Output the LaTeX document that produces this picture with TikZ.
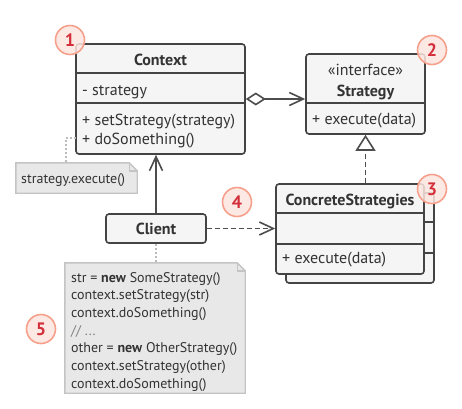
\documentclass[tikz,border=0pt]{standalone}
\usepackage{fontspec}
\setmainfont{PT Sans}
\usetikzlibrary{arrows.meta,calc}
\definecolor{boxline}{HTML}{444444}
\definecolor{boxfill}{HTML}{F5F5F5}
\definecolor{notefill}{HTML}{E8E8E8}
\definecolor{noteline}{HTML}{C4C4C4}
\definecolor{txt}{HTML}{333333}
\definecolor{badgeline}{HTML}{F6A08C}
\definecolor{badgefill}{HTML}{FDE6E0}
\definecolor{badgetxt}{HTML}{D32F3A}
\definecolor{arrowc}{HTML}{4D4D4D}
\definecolor{dotc}{HTML}{BBBBBB}
\begin{document}
\begin{tikzpicture}[x=1pt,y=-1pt,
  font=\fontsize{16}{19}\selectfont, text=txt,
  classbox/.style={draw=boxline, fill=boxfill, line width=1.6pt, rounded corners=3pt, inner sep=0pt},
  divider/.style={draw=boxline, line width=1.6pt},
  lbl/.style={anchor=base west, inner sep=0pt},
  clbl/.style={anchor=base, inner sep=0pt},
  hdr/.style={anchor=base, inner sep=0pt, font=\fontsize{16}{19}\selectfont\bfseries},
  nlbl/.style={anchor=base west, inner sep=0pt, font=\fontsize{14}{17}\selectfont},
  notebox/.style={inner sep=0pt},
  notedraw/.style={draw=noteline, fill=notefill, line width=1.4pt},
  noteconn/.style={draw=dotc, line width=1.5pt, dash pattern=on 2pt off 2pt},
  conn/.style={draw=arrowc, line width=1.6pt},
  dashconn/.style={conn, dash pattern=on 5pt off 3pt},
  openhead/.style={-{Straight Barb[length=14pt,width=13pt,line width=1.6pt]}},
  badge/.style={circle, draw=badgeline, fill=badgefill, fill opacity=0.85, text opacity=1, line width=1.6pt, minimum size=29pt, inner sep=0pt, text=badgetxt, font=\fontsize{18}{18}\selectfont\bfseries}
]
\useasboundingbox[fill=white] (0,0) rectangle (462,408);

% ---------- Context ----------
\node[classbox, minimum width=169pt, minimum height=110pt] (context) at (160.5,99) {};
\draw[divider] (76,73) -- (245,73);
\draw[divider] (76,103) -- (245,103);
\node[hdr] (ctxname) at (160.5,65) {Context};
\node[lbl] (ctxattr) at (82,95) {- strategy};
\node[lbl] (ctxm1) at (82,125) {+ setStrategy(strategy)};
\node[lbl] (ctxm2) at (82,144) {+ doSomething()};

% ---------- Strategy ----------
\node[classbox, minimum width=119pt, minimum height=80pt] (strategy) at (365.5,94) {};
\draw[divider] (306,103) -- (425,103);
\node[clbl] (stereo) at (365.5,75) {«interface»};
\node[hdr] (stratname) at (365.5,96) {Strategy};
\node[lbl] (stratm) at (312,124) {+ execute(data)};

% ---------- ConcreteStrategies (stacked) ----------
\node[classbox, minimum width=148pt, minimum height=90pt] (concback) at (360,238) {};
\draw[divider] (286,222) -- (434,222);
\draw[divider] (286,253) -- (434,253);
\node[classbox, minimum width=148pt, minimum height=90pt] (conc) at (350,229) {};
\draw[divider] (276,213) -- (424,213);
\draw[divider] (276,244) -- (424,244);
\node[hdr] (concname) at (350,205) {ConcreteStrategies};
\node[lbl] (concm) at (282,263) {+ execute(data)};

% ---------- Client ----------
\node[classbox, minimum width=100pt, minimum height=29pt] (client) at (156,228.5) {};
\node[hdr] (clientname) at (156,234) {Client};

% ---------- Notes ----------
\node[notebox, minimum width=121pt, minimum height=30pt] (note1) at (76.5,178) {};
\draw[notedraw] (note1.north west) -- ([xshift=-8pt]note1.north east) -- ([yshift=-8pt]note1.north east) -- (note1.south east) -- (note1.south west) -- cycle;
\draw[notedraw, fill=none] ([xshift=-8pt]note1.north east) -- ([xshift=-8pt,yshift=-8pt]note1.north east) -- ([yshift=-8pt]note1.north east);
\node[nlbl] (note1txt) at (21,183) {strategy.execute()};

\node[notebox, minimum width=180pt, minimum height=130pt] (note2) at (155,328) {};
\draw[notedraw] (note2.north west) -- ([xshift=-8pt]note2.north east) -- ([yshift=-8pt]note2.north east) -- (note2.south east) -- (note2.south west) -- cycle;
\draw[notedraw, fill=none] ([xshift=-8pt]note2.north east) -- ([xshift=-8pt,yshift=-8pt]note2.north east) -- ([yshift=-8pt]note2.north east);
\node[nlbl] (l1) at (71,282) {str = \textbf{new} SomeStrategy()};
\node[nlbl] (l2) at (71,299.7) {context.setStrategy(str)};
\node[nlbl] (l3) at (71,317.4) {context.doSomething()};
\node[nlbl, text=black!50] (l4) at (71,335.1) {// ...};
\node[nlbl] (l5) at (71,352.8) {other = \textbf{new} OtherStrategy()};
\node[nlbl] (l6) at (71,370.5) {context.setStrategy(other)};
\node[nlbl] (l7) at (71,388.2) {context.doSomething()};

% ---------- Connectors ----------
\draw[conn, {Diamond[open, fill=white, length=20pt, width=13pt, line width=1.6pt]}-{Straight Barb[length=14pt,width=13pt,line width=1.6pt]}]
  (context.east) -- (context.east -| strategy.west);
\draw[dashconn, -{Triangle[open, fill=white, length=16pt, width=20pt, line width=1.6pt]}]
  (conc.north -| strategy.south) -- (strategy.south);
\draw[conn, openhead] (client.north) -- (client.north |- context.south);
\draw[dashconn, openhead] (client.east) -- (client.east -| conc.west);
\draw[noteconn] (client.south) -- (client.south |- note2.north);
\coordinate (ctxnote) at (76,138);
\coordinate (n1top) at (66,163);
\draw[noteconn] (ctxnote) -| (n1top);

% ---------- Badges ----------
\node[badge] (b1) at (70,40) {1};
\node[badge] (b2) at (432,50) {2};
\node[badge] (b3) at (432,189) {3};
\node[badge] (b4) at (237,202) {4};
\node[badge] (b5) at (41,329) {5};
\end{tikzpicture}
\end{document}
